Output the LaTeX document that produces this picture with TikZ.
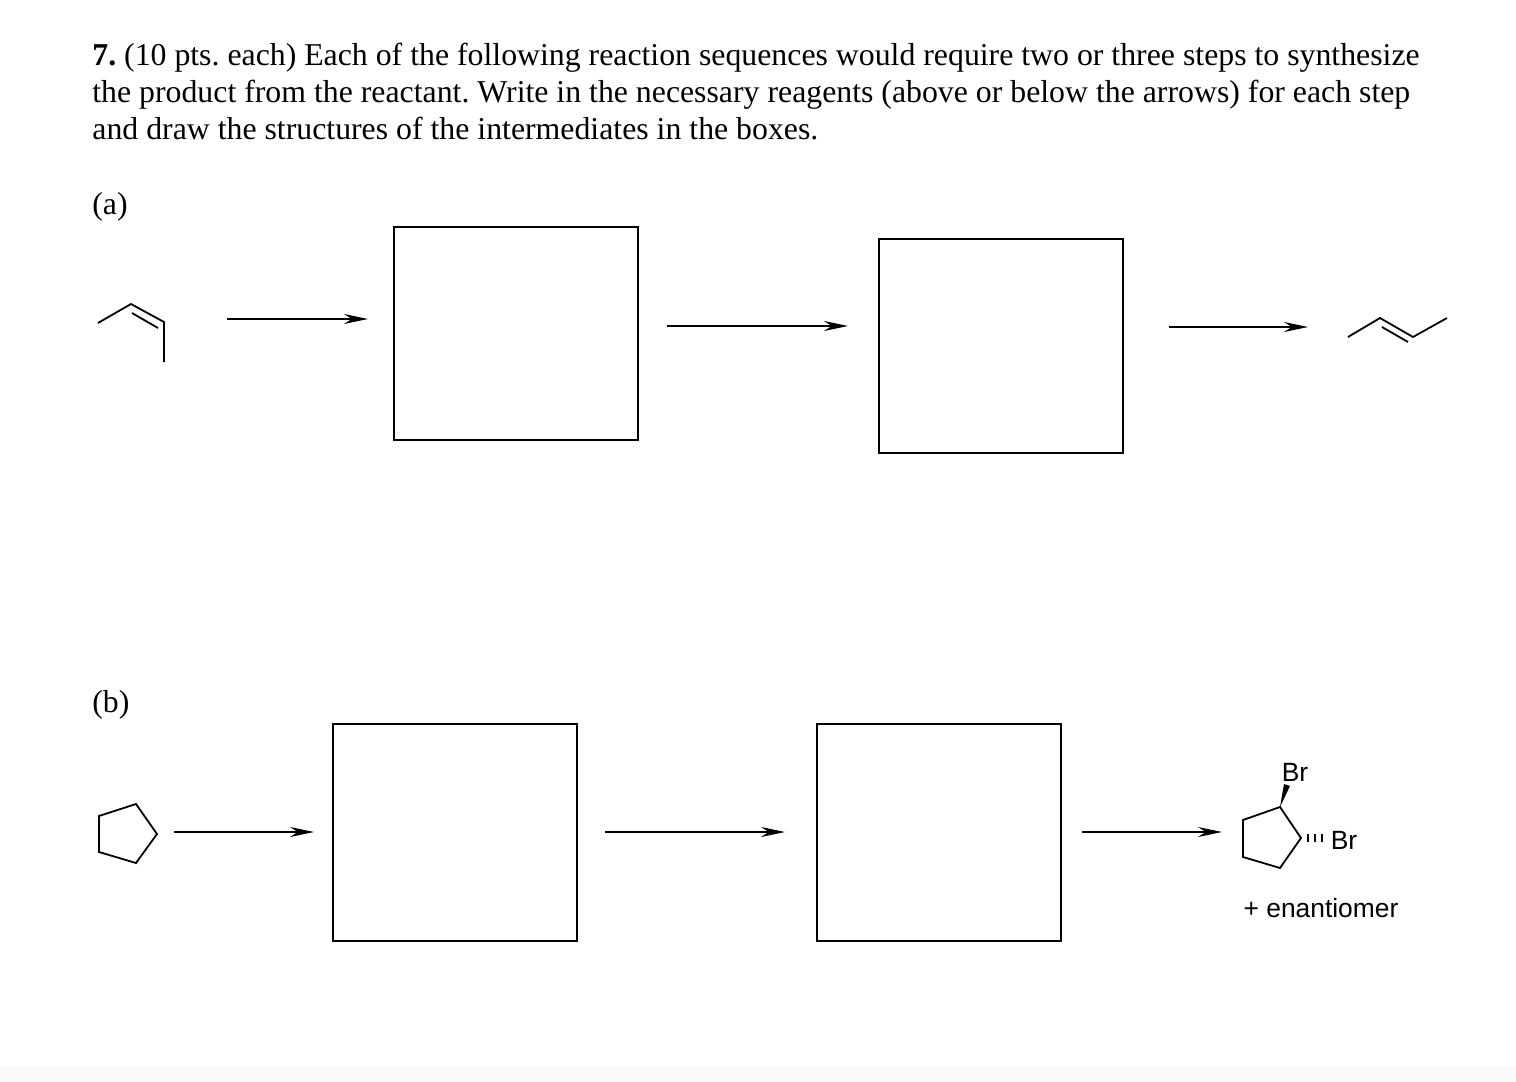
\documentclass[tikz,border=0pt]{standalone}
\usepackage{fontspec}
\setmainfont{Liberation Serif}
\newfontfamily\helv{Liberation Sans}
\usetikzlibrary{arrows.meta}
\begin{document}
\frenchspacing
\begin{tikzpicture}[x=0.5pt,y=-0.5pt,
  box/.style={draw,line width=0.8pt},
  rxn/.style={line width=0.8pt,-{Stealth[length=12pt,width=5pt]}},
  bond/.style={line width=0.9pt},
  txt/.style={anchor=base west,inner sep=0,font=\fontsize{15.9}{18}\selectfont},
  lab/.style={inner sep=0,font=\helv\fontsize{13.2}{15}\selectfont}]
\useasboundingbox (0,0) rectangle (1516,1082);
\fill[gray!4] (0,1066) rectangle (1516,1082);
\node[txt] (l1) at (92,65) {\textbf{7.} (10 pts. each) Each of the following reaction sequences would require two or three steps to synthesize};
\node[txt] (l2) at (92,102) {the product from the reactant. Write in the necessary reagents (above or below the arrows) for each step};
\node[txt] (l3) at (92,139) {and draw the structures of the intermediates in the boxes.};
\node[txt] (pa) at (92,214) {(a)};
\node[txt] (pb) at (92,712) {(b)};
% (a)
\draw[bond] (98,323)--(131,304)--(164,322)--(164,362);
\draw[bond] (132,313)--(158,328);
\node[box,minimum width=122pt,minimum height=106.5pt,inner sep=0] (a1) at (516,333.5) {};
\node[box,minimum width=122pt,minimum height=107pt,inner sep=0] (a2) at (1001,346) {};
\draw[rxn] (227,319) -- (368,319);
\draw[rxn] (667,326) -- (848,326);
\draw[rxn] (1169,327) -- (1308,327);
\draw[bond] (1348,337)--(1380,318)--(1413,337)--(1447,318);
\draw[bond] (1382,327)--(1408,342);
% (b)
\draw[bond] (136,804)--(157,834)--(136,863)--(99,852)--(99,816)--cycle;
\node[box,minimum width=122pt,minimum height=108.5pt,inner sep=0] (b1) at (455,832.5) {};
\node[box,minimum width=122pt,minimum height=108.5pt,inner sep=0] (b2) at (939,832.5) {};
\draw[rxn] (174,832) -- (314,832);
\draw[rxn] (605,832) -- (785,832);
\draw[rxn] (1082,832) -- (1222,832);
\draw[bond] (1280,807)--(1301,838)--(1280,868)--(1243,857)--(1243,820)--cycle;
\fill (1280,807)--(1284,784)--(1290,786)--cycle;
\foreach \i in {1,2,3} \draw[line width=0.7pt] (1301+7*\i,834)--(1301+7*\i,842);
\node[lab] (br1) at (1295,772) {Br};
\node[lab] (br2) at (1344,840) {Br};
\node[lab] (en) at (1321,908) {+ enantiomer};
\end{tikzpicture}
\end{document}
